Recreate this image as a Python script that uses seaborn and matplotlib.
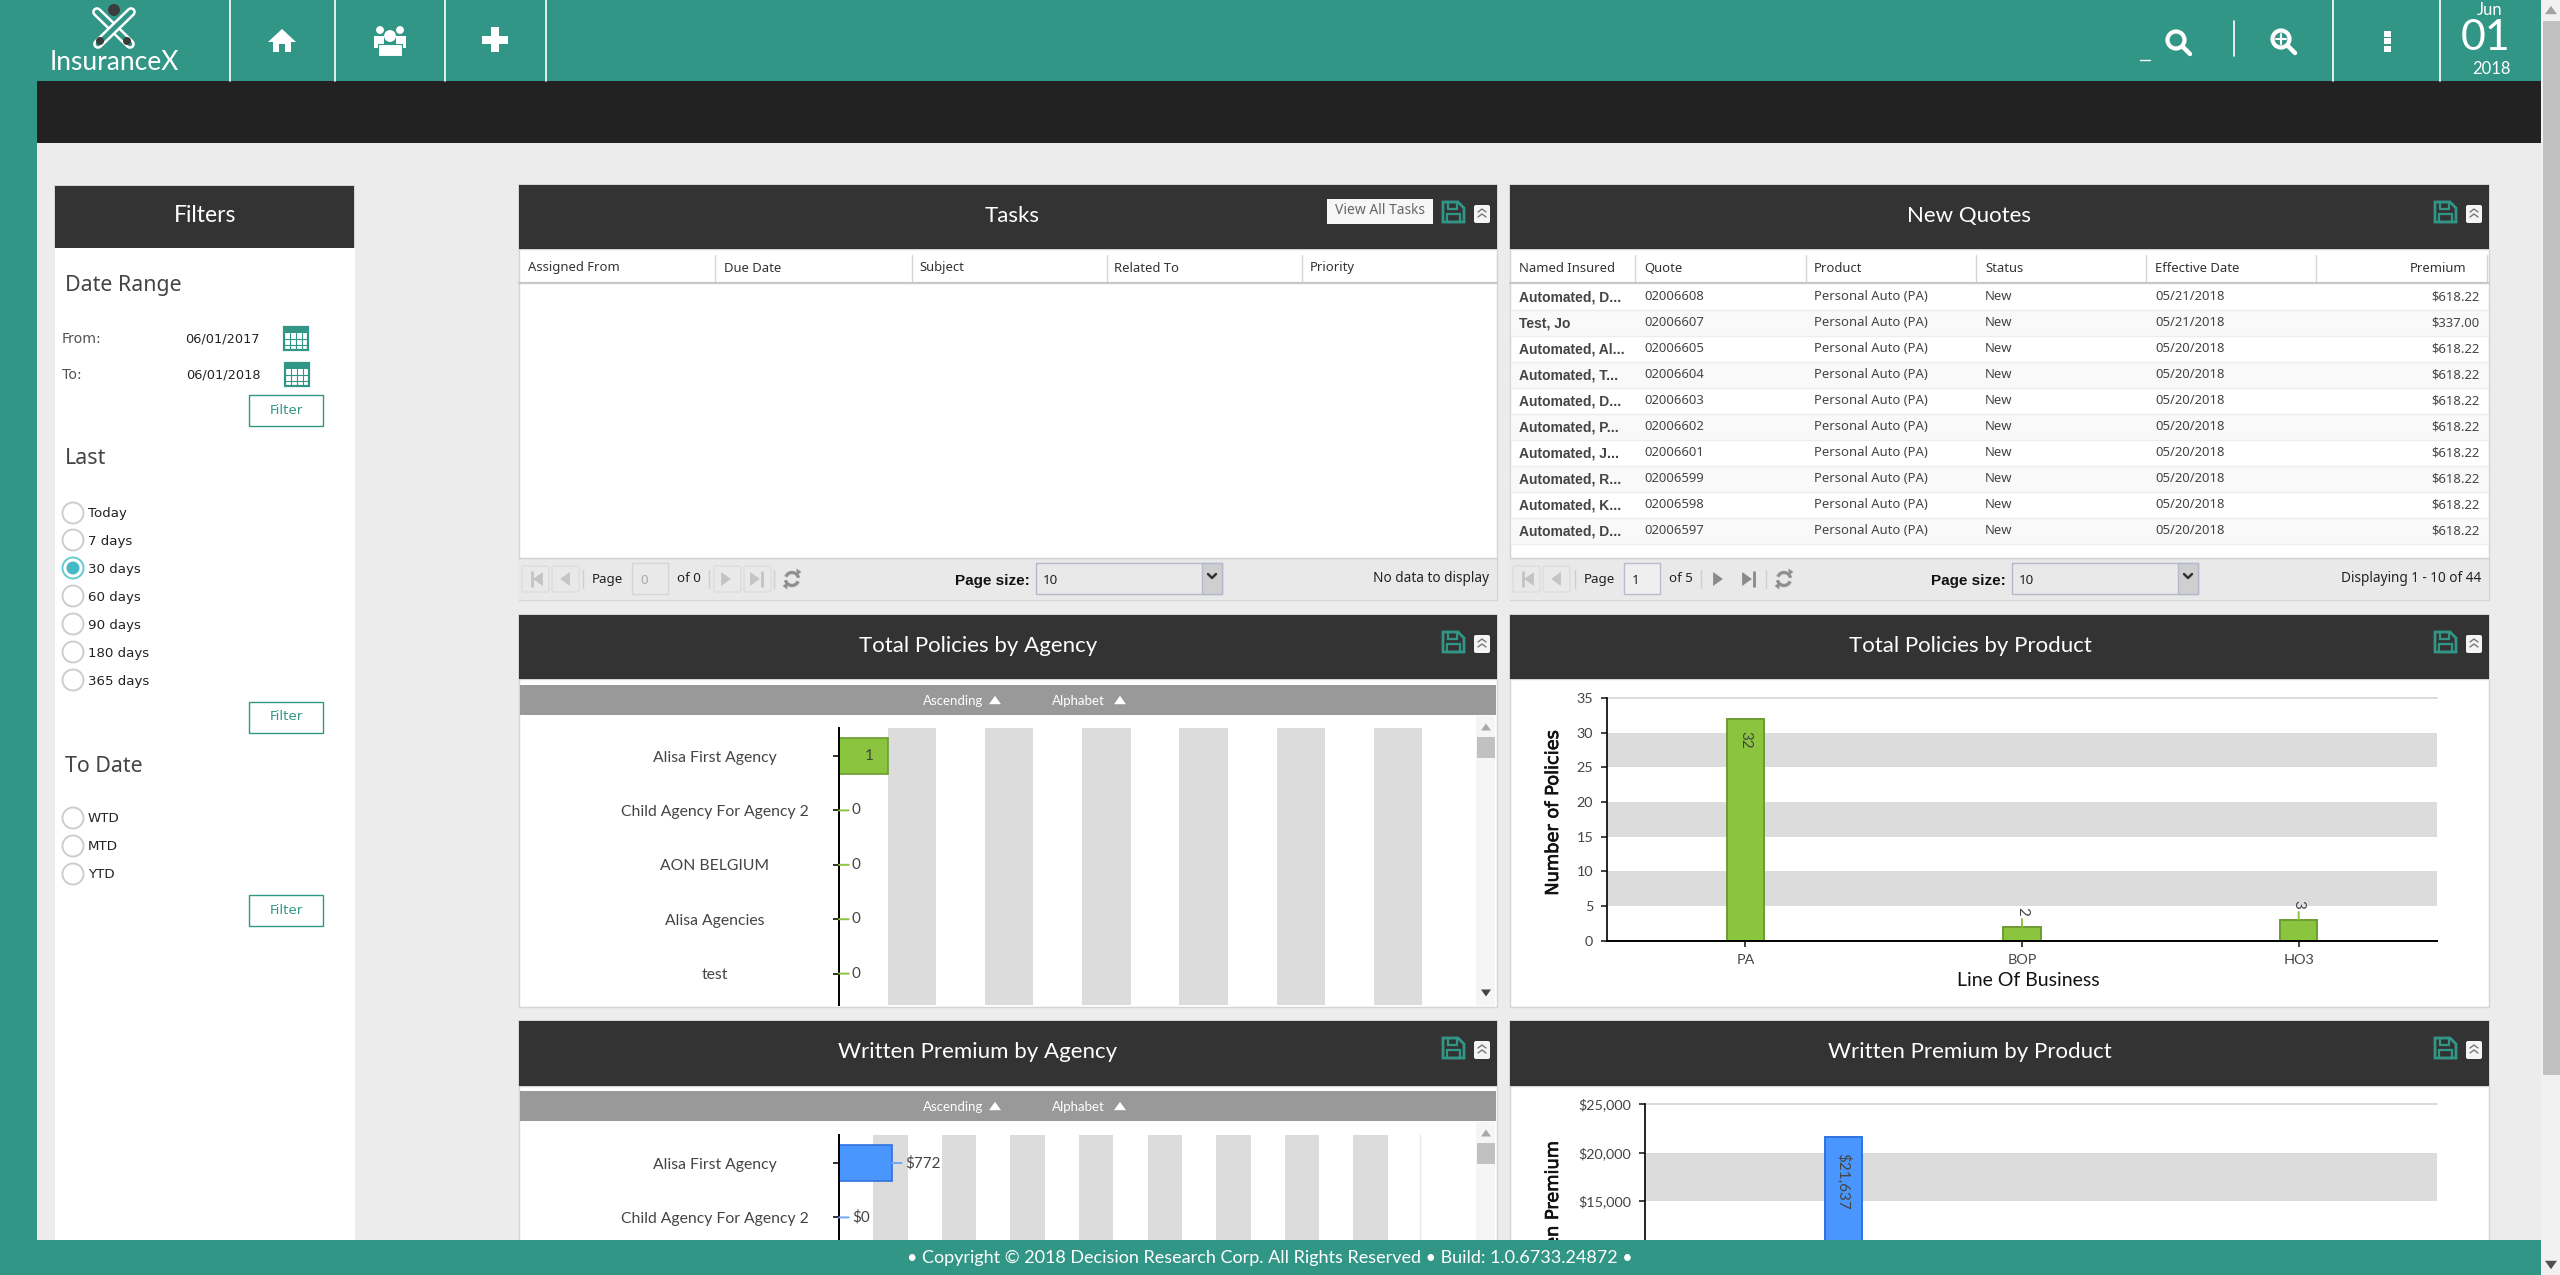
import numpy as np
import matplotlib
matplotlib.use('Agg')
import matplotlib.pyplot as plt
import matplotlib.patheffects as pe
from matplotlib.patches import Rectangle, Circle, Polygon, FancyBboxPatch, Ellipse, Arc
from matplotlib.ticker import StrMethodFormatter
import seaborn as sns

W, H = 2560, 1275

# chart data
agency_names = ['Alisa First Agency', 'Child Agency For Agency 2', 'AON BELGIUM', 'Alisa Agencies', 'test']
agency_policies = [1, 0, 0, 0, 0]
premium_agency_names = ['Alisa First Agency', 'Child Agency For Agency 2']
premium_agency_values = [772, 0]
product_names = ['PA', 'BOP', 'HO3']
product_policies = [32, 2, 3]
premium_product_names = ['PA']
premium_product_values = [21637]

# tables
task_columns = ['Assigned From', 'Due Date', 'Subject', 'Related To', 'Priority']
quote_columns = ['Named Insured', 'Quote', 'Product', 'Status', 'Effective Date', 'Premium']
quote_names = ['Automated, D...', 'Test, Jo', 'Automated, Al...', 'Automated, T...', 'Automated, D...',
               'Automated, P...', 'Automated, J...', 'Automated, R...', 'Automated, K...', 'Automated, D...']
quote_ids = ['02006608', '02006607', '02006605', '02006604', '02006603',
             '02006602', '02006601', '02006599', '02006598', '02006597']
quote_dates = ['05/21/2018', '05/21/2018', '05/20/2018', '05/20/2018', '05/20/2018',
               '05/20/2018', '05/20/2018', '05/20/2018', '05/20/2018', '05/20/2018']
quote_premiums = ['$618.22', '$337.00', '$618.22', '$618.22', '$618.22',
                  '$618.22', '$618.22', '$618.22', '$618.22', '$618.22']
last_options = ['Today', '7 days', '30 days', '60 days', '90 days', '180 days', '365 days']
to_date_options = ['WTD', 'MTD', 'YTD']

TEAL = '#329687'
DARK = '#333333'
GREEN = '#8BC53F'
GREEN_EDGE = '#6C9C30'
BLUE = '#4A96FF'
BLUE_EDGE = '#2F72E0'
BAND = '#DCDCDC'
TITLE_FONT = 'Lato'
UI_FONT = 'Noto Sans'
SIDE_FONT = 'DejaVu Sans'
BOLD_FONT = 'Liberation Sans'

sns.set_theme(style='white')
plt.rcParams['font.family'] = [TITLE_FONT, 'DejaVu Sans']

fig = plt.figure(figsize=(W / 100, H / 100), dpi=100, facecolor='#ECECEC')


def pixel_axes(x0, y0, x1, y1, zorder):
    return fig.add_axes([x0 / W, 1 - y1 / H, (x1 - x0) / W, (y1 - y0) / H], zorder=zorder)


back = pixel_axes(0, 0, W, H, 0)
back.set_xlim(0, W)
back.set_ylim(H, 0)
back.axis('off')
front = pixel_axes(0, 0, W, H, 5)
front.set_xlim(0, W)
front.set_ylim(H, 0)
front.axis('off')
front.patch.set_alpha(0)


def box(ax, x0, y0, x1, y1, color, edge='none', lw=0.0, z=1):
    ax.add_patch(Rectangle((x0, y0), x1 - x0, y1 - y0, facecolor=color, edgecolor=edge, linewidth=lw, zorder=z))


def label(ax, x, y, s, size=9.4, color='#333333', ha='left', family=UI_FONT, weight='normal', rotation=0):
    ax.text(x, y, s, fontsize=size, color=color, ha=ha, va='center', family=family, weight=weight,
            rotation=rotation, zorder=6)


def save_icon(x, y):
    # floppy disk outline
    back.add_patch(Polygon([(x, y), (x + 15, y), (x + 21, y + 6), (x + 21, y + 20), (x, y + 20)], closed=True,
                           facecolor='none', edgecolor=TEAL, linewidth=2, zorder=4))
    box(back, x + 5, y, x + 14, y + 7, 'none', TEAL, 1.6, 4)
    box(back, x + 4, y + 12, x + 17, y + 20, 'none', TEAL, 1.6, 4)


def collapse_icon(x, y):
    back.add_patch(FancyBboxPatch((x + 3, y + 2), 12, 14, boxstyle='round,pad=2', facecolor='#F4F4F4',
                                  edgecolor='none', zorder=4))
    for dy in (4, 9):
        back.plot([x + 5, x + 9, x + 13], [y + dy + 3, y + dy, y + dy + 3], color='#777777', lw=1.0, zorder=5)


def panel_header(x0, x1, y0, y1, title, title_x):
    box(back, x0 - 1, y0 - 1, x1 + 1, y1 + 1, '#D4D4D4', z=1)
    box(back, x0, y0, x1, y1, DARK, z=2)
    label(back, title_x, (y0 + y1) / 2 - 1, title, size=16, color='white', ha='center', family=TITLE_FONT)
    save_icon(x1 - 54, y0 + 17)
    collapse_icon(x1 - 24, y0 + 20)


def triangle(ax, x, y, size, color, direction='up'):
    s = size
    if direction == 'up':
        pts = [(x - s, y + s * 0.7), (x + s, y + s * 0.7), (x, y - s * 0.7)]
    elif direction == 'down':
        pts = [(x - s, y - s * 0.7), (x + s, y - s * 0.7), (x, y + s * 0.7)]
    elif direction == 'left':
        pts = [(x + s * 0.7, y - s), (x + s * 0.7, y + s), (x - s * 0.7, y)]
    else:
        pts = [(x - s * 0.7, y - s), (x - s * 0.7, y + s), (x + s * 0.7, y)]
    ax.add_patch(Polygon(pts, closed=True, facecolor=color, edgecolor='none', zorder=5))


def pager(x0, x1, y0, y1, offset, page, of, right_text, active, combo):
    box(back, x0, y0, x1, y1, '#E9E9E9', z=2)
    back.plot([x0, x1], [y0, y0], color='#CFCFCF', lw=1, zorder=3)
    c = '#8A8A8A' if active else '#C4C4C4'
    yc = (y0 + y1) / 2
    # disabled buttons get a faint frame
    for bx in [x0 + 3, x0 + 33] + ([] if active else [x0 + 195, x0 + 225]):
        back.add_patch(FancyBboxPatch((bx + 2, y0 + 10), 23, 22, boxstyle='round,pad=2', facecolor='none',
                                      edgecolor='#DADADA', lw=0.8, zorder=3))
    back.plot([x0 + 13, x0 + 13], [yc - 7, yc + 7], color='#C4C4C4', lw=2, zorder=4)
    triangle(back, x0 + 19, yc, 7, '#C4C4C4', 'left')
    triangle(back, x0 + 46, yc, 7, '#C4C4C4', 'left')
    for sep in [x0 + offset - 24, x0 + offset + 102, x0 + offset + 167]:
        back.plot([sep, sep], [yc - 9, yc + 9], color='#CFCFCF', lw=1, zorder=4)
    label(back, x0 + offset, yc, 'Page', size=9.6, color='#222222', ha='center')
    box(back, x0 + offset + 25, y0 + 5, x0 + offset + 61, y1 - 6, '#EFEFEF' if active else '#E9E9E9',
        '#B8BCCC' if active else '#D5D5D5', 1, 3)
    label(back, x0 + offset + 33, yc + 1, page, size=9.6, color='#222222' if active else '#AAAAAA')
    label(back, x0 + offset + 82, yc, of, size=9.6, color='#222222', ha='center')
    triangle(back, x0 + offset + 119, yc, 7, c, 'right')
    triangle(back, x0 + offset + 148, yc, 7, c, 'right')
    back.plot([x0 + offset + 155, x0 + offset + 155], [yc - 7, yc + 7], color=c, lw=2, zorder=4)
    rx = x0 + offset + 185
    back.add_patch(Arc((rx, yc), 13, 13, theta1=20, theta2=170, color='#909090', lw=2.4, zorder=4))
    back.add_patch(Arc((rx, yc), 13, 13, theta1=200, theta2=350, color='#909090', lw=2.4, zorder=4))
    triangle(back, rx + 7, yc - 7, 3.5, '#909090', 'right')
    triangle(back, rx - 7, yc + 7, 3.5, '#909090', 'left')
    label(back, combo - 6, yc + 2, 'Page size:', size=11, color='#111111', ha='right', weight='bold', family=BOLD_FONT)
    box(back, combo, y0 + 5, combo + 186, y1 - 6, '#E9E9E9', '#B4B8CC', 1, 3)
    box(back, combo + 166, y0 + 5, combo + 186, y1 - 6, '#CFCFCF', '#B4B8CC', 1, 3)
    back.plot([combo + 172, combo + 176, combo + 180], [yc - 5, yc - 1, yc - 5], color='#333333', lw=1.8, zorder=4)
    label(back, combo + 7, yc + 2, '10', size=9.6, color='#222222')
    label(back, x1 - 8, yc - 1, right_text, size=9.8, color='#222222', ha='right')


# page chrome
box(back, 0, 0, 37, H, TEAL)
box(back, 37, 81, 2541, 143, '#222222')
box(back, 0, 0, 2541, 81, TEAL, z=2)
box(back, 2541, 0, W, H, '#F1F1F1', z=2)
box(back, 2543, 21, W, 1075, '#C1C1C1', z=3)
triangle(back, 2551, 10, 6, '#A3A3A3', 'up')
triangle(back, 2551, 1265, 6, '#505050', 'down')
for xv in [229.5, 334.5, 444.5, 545.5, 2333, 2440]:
    back.plot([xv, xv], [0, 81], color='white', lw=1.2, zorder=3)
back.plot([2234, 2234], [21, 56], color='white', lw=1.2, zorder=3)
back.plot([2140, 2150], [60, 60], color='white', lw=1, zorder=3)

# logo
for a, b in [((97, 12), (130, 44)), ((131, 12), (98, 44))]:
    back.plot([a[0], b[0]], [a[1], b[1]], color='white', lw=7, solid_capstyle='round', zorder=3)
    back.plot([a[0], b[0]], [a[1], b[1]], color=TEAL, lw=3.4, solid_capstyle='round', zorder=3)
for cx, cy, r in [(114, 10, 6), (100, 41, 4), (127, 41, 4)]:
    back.add_patch(Circle((cx, cy), r, facecolor='#3C3C3C', edgecolor='none', zorder=4))
label(back, 114, 62, 'InsuranceX', size=19, color='white', ha='center', family=TITLE_FONT)

# home, people, plus icons
back.add_patch(Polygon([(268, 42), (282, 29), (296, 42), (291, 42), (291, 52), (285, 52), (285, 44), (279, 44),
                        (279, 52), (273, 52), (273, 42)], closed=True, facecolor='white', edgecolor='none', zorder=4))
for cx, cy, r in [(380, 30, 4.5), (400, 30, 4.5), (390, 36, 6.5)]:
    back.add_patch(Circle((cx, cy), r, facecolor='white', edgecolor=TEAL, linewidth=0.8, zorder=4))
for x0, x1, y0, y1 in [(374, 384, 36, 48), (396, 406, 36, 48)]:
    box(back, x0, y0, x1, y1, 'white', z=4)
box(back, 378, 44, 402, 56, 'white', TEAL, 0.8, 5)
box(back, 482, 36, 508, 44, 'white', z=4)
box(back, 491, 27, 499, 52, 'white', z=4)

# search, zoom, kebab icons
for cx, cy in [(2177, 40), (2282, 39)]:
    back.add_patch(Circle((cx - 1, cy), 8.5, facecolor='none', edgecolor='white', lw=3, zorder=4))
    back.plot([cx + 6, cx + 13], [cy + 7, cy + 14], color='white', lw=3.2, zorder=4)
back.plot([2276, 2286], [39, 39], color='white', lw=1.5, zorder=5)
back.plot([2281, 2281], [34, 44], color='white', lw=1.5, zorder=5)
for yy in [34, 41, 49]:
    box(back, 2384, yy - 3, 2391, yy + 3, 'white', z=4)
label(back, 2490, 10, 'Jun', size=12, color='white', ha='center', family=TITLE_FONT)
label(back, 2486, 38, '01', size=31, color='white', ha='center', family=TITLE_FONT)
label(back, 2491, 69, '2018', size=12, color='white', ha='center', family=TITLE_FONT)

# filter side panel
box(back, 54, 185, 355, 248, '#D4D4D4', z=1)
box(back, 55, 248, 355, 1240, 'white', z=2)
box(back, 55, 186, 354, 248, DARK, z=2)
label(back, 205, 216, 'Filters', size=16.5, color='white', ha='center', family=TITLE_FONT)
label(back, 65, 285, 'Date Range', size=15.4, color='#444444')
label(back, 62, 339, 'From:', size=10.2, color='#555555', family=SIDE_FONT)
label(back, 62, 375, 'To:', size=10.2, color='#555555', family=SIDE_FONT)
label(back, 185, 339, '06/01/2017', size=9.3, color='#222222', family=SIDE_FONT)
label(back, 186, 375, '06/01/2018', size=9.3, color='#222222', family=SIDE_FONT)
for xc, yc in [(296, 338), (297, 374)]:
    box(back, xc - 12, yc - 11, xc + 12, yc + 12, 'white', TEAL, 1.6, 4)
    box(back, xc - 12, yc - 11, xc + 12, yc - 5, TEAL, z=5)
    for i in range(1, 4):
        back.plot([xc - 12 + i * 6, xc - 12 + i * 6], [yc - 5, yc + 12], color=TEAL, lw=0.8, zorder=5)
    for j in range(1, 3):
        back.plot([xc - 12, xc + 12], [yc - 5 + j * 6, yc - 5 + j * 6], color=TEAL, lw=0.8, zorder=5)


def filter_button(y):
    box(back, 249, y, 323, y + 31, 'white', TEAL, 1, 4)
    label(back, 286, y + 15, 'Filter', size=9.6, color=TEAL, ha='center', family=SIDE_FONT)


def radio(y, text, on=False):
    edge = '#66CBD0' if on else '#CDCDCD'
    back.add_patch(Circle((73, y), 10.5, facecolor='white', edgecolor=edge, lw=1.4, zorder=4))
    if on:
        back.add_patch(Ellipse((73, y), 13, 13, facecolor='#45BAC4', edgecolor='none', zorder=5))
    label(back, 88, y + 1, text, size=9.6, color='#222222', family=SIDE_FONT)


filter_button(395)
label(back, 65, 459, 'Last', size=15.4, color='#444444')
for yy, opt in zip([513, 540, 568, 596, 624, 652, 680], last_options):
    radio(yy, opt, on=opt == '30 days')
filter_button(702)
label(back, 65, 766, 'To Date', size=15.4, color='#444444')
for yy, opt in zip([818, 846, 874], to_date_options):
    radio(yy, opt)
filter_button(895)

# tasks panel
panel_header(519, 1497, 185, 249, 'Tasks', 1012)
box(back, 519, 249, 1497, 600, 'white', '#D4D4D4', 1, 1)
for xv, col in zip([519, 716, 911, 1106, 1301], task_columns):
    label(back, xv + 8.5, 268, col, size=9.4)
    back.plot([xv + 196, xv + 196], [255, 282], color='#D5D5D5', lw=1, zorder=3)
back.plot([519, 1497], [283, 283], color='#C8C8C8', lw=1.6, zorder=3)
box(back, 1327, 199, 1433, 224, '#F6F6F6', z=4)
label(back, 1380, 210, 'View All Tasks', size=10, color='#666666', ha='center')
pager(519, 1497, 558, 600, 88, '0', 'of 0', 'No data to display', False, 1036)

# new quotes panel
panel_header(1510, 2489, 185, 249, 'New Quotes', 1969)
box(back, 1510, 249, 2489, 600, 'white', '#D4D4D4', 1, 1)
quote_x = [1519, 1644, 1814, 1985, 2155]
for xv, col in zip(quote_x, quote_columns):
    label(back, xv, 268, col, size=9.4)
label(back, 2466, 268, quote_columns[5], size=9.4, ha='right')
for xv in [1635, 1806, 1976, 2146, 2316, 2487]:
    back.plot([xv, xv], [255, 282], color='#D5D5D5', lw=1, zorder=3)
back.plot([1510, 2489], [283, 283], color='#C8C8C8', lw=1.6, zorder=3)
for i in range(10):
    yc = 297 + 26 * i
    if i % 2:
        box(back, 1511, yc - 13, 2488, yc + 13, '#F9F9F9', z=2)
    back.plot([1511, 2488], [yc + 13, yc + 13], color='#EDEDED', lw=1, zorder=3)
    label(back, 1519, yc, quote_names[i], size=10, weight='bold', color='#444444', family=BOLD_FONT)
    label(back, 1644, yc, quote_ids[i], size=9.4, color='#444444')
    label(back, 1814, yc, 'Personal Auto (PA)', size=9.4, color='#444444')
    label(back, 1985, yc, 'New', size=9.4, color='#444444')
    label(back, 2155, yc, quote_dates[i], size=9.4, color='#444444')
    label(back, 2480, yc, quote_premiums[i], size=9.4, color='#444444', ha='right')
pager(1510, 2489, 558, 600, 89, '1', 'of 5', 'Displaying 1 - 10 of 44', True, 2012)

# panels with the four charts
panel_header(519, 1497, 615, 679, 'Total Policies by Agency', 978)
box(back, 519, 679, 1497, 1007, 'white', '#D4D4D4', 1, 1)
panel_header(519, 1497, 1021, 1086, 'Written Premium by Agency', 978)
box(back, 519, 1086, 1497, 1275, 'white', '#D4D4D4', 1, 1)
panel_header(1510, 2489, 615, 679, 'Total Policies by Product', 1970)
box(back, 1510, 679, 2489, 1007, 'white', '#D4D4D4', 1, 1)
panel_header(1510, 2489, 1021, 1086, 'Written Premium by Product', 1970)
box(back, 1510, 1086, 2489, 1275, 'white', '#D4D4D4', 1, 1)

for y0 in [685, 1091]:
    box(back, 520, y0, 1496, y0 + 30, '#999999', z=2)
    label(back, 953, y0 + 16, 'Ascending', size=9.5, color='white', ha='center', family=TITLE_FONT)
    triangle(back, 995, y0 + 15, 6, 'white')
    label(back, 1078, y0 + 16, 'Alphabet', size=9.5, color='white', ha='center', family=TITLE_FONT)
    triangle(back, 1120, y0 + 15, 6, 'white')
    box(back, 1476, y0 + 31, 1495, min(y0 + 322, H), '#F5F5F5', z=2)
    triangle(back, 1486, y0 + 42, 5, '#A8A8A8', 'up')
    box(back, 1477, y0 + 52, 1495, y0 + 73, '#C1C1C1', z=3)
triangle(back, 1486, 993, 5, '#444444', 'down')


def style_axis(ax):
    ax.set_facecolor('none')
    ax.grid(False)
    ax.set_xlabel('')
    ax.set_ylabel('')
    for side in ['top', 'right', 'bottom', 'left']:
        ax.spines[side].set_visible(False)


def value_note(ax, xy, text, offset, color, ha='left', va='center', rotation=0, line=True):
    arrow = dict(arrowstyle='-', color=color, lw=1.4, shrinkA=0, shrinkB=0) if line else None
    ax.annotate(text, xy=xy, xytext=offset, textcoords='offset pixels', ha=ha, va=va, fontsize=11,
                color='#444444', rotation=rotation, arrowprops=arrow, family=TITLE_FONT)


def agency_chart(axes_box, names, values, xmax, step, color, edge, ylim):
    ax = pixel_axes(*axes_box, 1)
    sns.barplot(x=values, y=names, orient='h', color=color, edgecolor=edge, linewidth=1.2, width=0.66,
                saturation=1, ax=ax)
    style_axis(ax)
    for start in np.arange(step, xmax, step * 2):
        ax.axvspan(start, start + step, color=BAND, lw=0, zorder=0)
    ax.set_xlim(0, xmax)
    ax.set_ylim(*ylim)
    ax.spines['left'].set_visible(True)
    ax.spines['left'].set_color('black')
    ax.spines['left'].set_linewidth(1.4)
    ax.set_xticks([])
    ax.tick_params(axis='y', left=True, length=4.3, width=1.3, color='#222222', pad=85, labelsize=11.3,
                   labelcolor='#444444')
    for t in ax.get_yticklabels():
        t.set_ha('center')
        t.set_family(TITLE_FONT)
    return ax


# total policies by agency
ax1 = agency_chart((839, 728, 1471, 1005), agency_names, agency_policies, 13, 1, GREEN, GREEN_EDGE,
                   (4.577, -0.515))
for i, v in enumerate(agency_policies):
    if v > 0:
        value_note(ax1, (v, i), str(v), (-14, 0), '#444444', ha='right', line=False)
    else:
        value_note(ax1, (v, i), str(v), (13, 0), GREEN)

# written premium by agency
ax2 = agency_chart((839, 1135, 1422, 1240), premium_agency_names, premium_agency_values, 8500, 500, BLUE, BLUE_EDGE,
                   (1.415, -0.515))
for i, v in enumerate(premium_agency_values):
    value_note(ax2, (v, i), '${}'.format(v), (13, 0), '#6FA8FF')
back.plot([1420, 1420], [1135, 1240], color='#E8E8E8', lw=1, zorder=3)


def product_chart(axes_box, names, values, ylim, step, ticks, color, edge, xlim, bar_width):
    ax = pixel_axes(*axes_box, 1)
    sns.barplot(x=names, y=values, color=color, edgecolor=edge, linewidth=1.4, width=bar_width,
                saturation=1, ax=ax)
    style_axis(ax)
    for start in np.arange(step, ylim[1] - step, step * 2):
        ax.axhspan(start, start + step, color=BAND, lw=0, zorder=0)
    ax.axhline(ylim[1], color=BAND, lw=1.4, zorder=0, clip_on=False)
    ax.set_xlim(*xlim)
    ax.set_ylim(*ylim)
    ax.spines['left'].set_visible(True)
    ax.spines['bottom'].set_visible(True)
    ax.spines['left'].set_color('black')
    ax.spines['bottom'].set_color('black')
    ax.spines['left'].set_linewidth(1.2)
    ax.spines['bottom'].set_linewidth(1.4)
    ax.set_yticks(ticks)
    ax.tick_params(axis='both', left=True, bottom=True, length=4, width=1.2, color='#222222', labelsize=10.4,
                   labelcolor='#444444', pad=6)
    for t in ax.get_xticklabels() + ax.get_yticklabels():
        t.set_family(TITLE_FONT)
    return ax


# slightly thicker than regular, like the axis titles in the screenshot
axis_title = [pe.withStroke(linewidth=0.5, foreground='#111111')]

# total policies by product
ax3 = product_chart((1607, 698, 2437, 940.5), product_names, product_policies, (0, 35), 5, list(range(0, 40, 5)),
                    GREEN, GREEN_EDGE, (-0.5, 2.5), 0.134)
for i, v in enumerate(product_policies):
    if v > 10:
        value_note(ax3, (i, v), str(v), (0, -21), '#444444', ha='center', rotation=270, line=False)
    else:
        value_note(ax3, (i, v), str(v), (0, 11), GREEN, ha='center', va='bottom', rotation=270)
ax3.set_ylabel('Number of Policies', fontsize=12.8, color='#111111', family='DejaVu Sans', path_effects=axis_title)
ax3.yaxis.set_label_coords(1562, 813, transform=back.transData)
ax3.set_xlabel('Line Of Business', fontsize=14, color='#111111', family=TITLE_FONT)
ax3.xaxis.set_label_coords(2028, 972, transform=back.transData)

# written premium by product, the lower part is cut off by the footer
ax4 = product_chart((1645.4, 1104, 2437, 1346.5), premium_product_names, premium_product_values, (0, 25000), 5000,
                    [15000, 20000, 25000], BLUE, BLUE_EDGE, (-0.5, 1.5), 0.0934)
ax4.yaxis.set_major_formatter(StrMethodFormatter('${x:,.0f}'))
for i, v in enumerate(premium_product_values):
    value_note(ax4, (i, v), '${:,}'.format(v), (0, -16), '#444444', ha='center', va='top', rotation=270, line=False)
ax4.set_xticks([])
ax4.set_ylabel('Written Premium', fontsize=12.8, color='#111111', family='DejaVu Sans', path_effects=axis_title)
ax4.yaxis.set_label_coords(1562, 1216, transform=back.transData)

# footer on top of everything
box(front, 0, 1240, 2541, H, TEAL, z=3)
label(front, 1270, 1258, '\u2022 Copyright \u00a9 2018 Decision Research Corp. All Rights Reserved \u2022 Build: 1.0.6733.24872 \u2022',
      size=13, color='white', ha='center', family=TITLE_FONT)

fig.savefig('out.png', dpi=100, facecolor=fig.get_facecolor())
